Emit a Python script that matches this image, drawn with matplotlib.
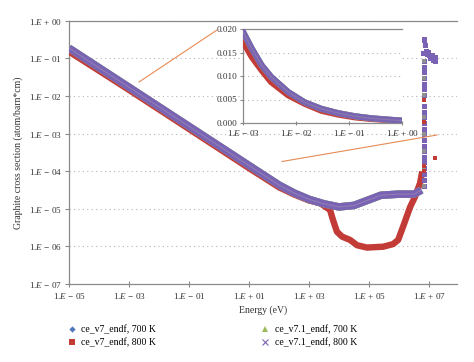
import matplotlib
matplotlib.use('Agg')
import matplotlib.pyplot as plt
from matplotlib.lines import Line2D
from matplotlib.ticker import FixedLocator, FixedFormatter, NullLocator

plt.rcParams['font.family'] = ['Liberation Serif', 'DejaVu Serif']
plt.rcParams['mathtext.fontset'] = 'custom'
plt.rcParams['mathtext.rm'] = 'Liberation Serif'
plt.rcParams['mathtext.it'] = 'Liberation Serif:italic'

# ---------------- data ----------------
series_labels = ['ce_v7_endf, 700 K', 'ce_v7_endf, 800 K',
                 'ce_v7.1_endf, 700 K', 'ce_v7.1_endf, 800 K']

# smooth part, ce_v7.1 (and 700 K libraries, which coincide)
main_energy_v71 = [1e-5, 1e-4, 1e-3, 1e-2, 1e-1, 1.0, 10.0, 100.0, 316.0,
                   1000.0, 3160.0, 1.0e4, 3.16e4, 1.0e5, 2.5e5, 1.0e6,
                   3.16e6, 5.6e6]
main_sigma_v71 = [0.186, 0.0562, 0.0170, 0.00513, 0.00155, 4.68e-4, 1.41e-4,
                  4.27e-5, 2.63e-5, 1.78e-5, 1.35e-5, 1.12e-5, 1.23e-5,
                  1.74e-5, 2.29e-5, 2.45e-5, 2.45e-5, 3.16e-5]

# smooth part, ce_v7_endf 800 K
main_energy_v7_800 = [1e-5, 1e-4, 1e-3, 1e-2, 1e-1, 1.0, 10.0, 100.0, 316.0,
                      1000.0, 2340.0, 5000.0, 6300.0, 8500.0, 1.26e4, 2.34e4,
                      4.0e4, 8.5e4, 2.95e5, 6.3e5, 9.3e5, 1.35e6, 2.34e6,
                      3.4e6, 5.0e6, 5.9e6]
main_sigma_v7_800 = [0.151, 0.0468, 0.01445, 0.00437, 0.00132, 3.98e-4,
                     1.20e-4, 3.72e-5, 2.40e-5, 1.66e-5, 1.41e-5, 9.3e-6,
                     5.0e-6, 2.45e-6, 1.82e-6, 1.48e-6, 1.07e-6, 9.3e-7,
                     9.8e-7, 1.15e-6, 1.48e-6, 3.3e-6, 1.12e-5, 2.09e-5,
                     4.8e-5, 9.8e-5]

# fast-region resonance points
res_energy_v71 = [6.6e6, 6.6e6, 6.6e6, 6.6e6, 6.6e6, 6.6e6, 6.6e6, 6.6e6,
                  6.6e6, 6.6e6, 6.6e6, 6.6e6, 6.6e6, 6.6e6, 6.6e6, 6.6e6,
                  6.6e6, 6.6e6, 6.6e6, 6.6e6, 6.6e6, 6.6e6,
                  6.4e6, 6.8e6, 7.0e6, 7.2e6, 7.6e6, 8.2e6, 9.0e6, 1.0e7,
                  1.1e7, 1.25e7, 1.4e7, 1.55e7, 1.6e7]
res_sigma_v71 = [4.0e-5, 6.0e-5, 8.5e-5, 1.2e-4, 1.7e-4, 2.4e-4, 3.4e-4,
                 4.8e-4, 6.8e-4, 9.5e-4, 1.35e-3, 1.9e-3, 2.7e-3, 3.8e-3,
                 5.3e-3, 1.05e-2, 1.5e-2, 2.1e-2, 3.0e-2, 4.2e-2, 6.0e-2,
                 8.5e-2,
                 0.14, 0.30, 0.32, 0.22, 0.16, 0.13, 0.15, 0.12,
                 0.10, 0.12, 0.09, 0.11, 0.085]
res_energy_v7_800 = [6.6e6, 6.6e6, 6.6e6, 6.6e6, 1.6e7]
res_sigma_v7_800 = [1.0e-4, 1.4e-4, 7.8e-3, 2.0e-3, 2.3e-4]

# inset (linear y)
inset_energy = [1e-3, 1.45e-3, 2.24e-3, 3.39e-3, 7.08e-3, 1.45e-2, 3.02e-2,
                6.17e-2, 0.129, 0.263, 0.55, 1.0]
inset_sigma_v71 = [0.0194, 0.0159, 0.0123, 0.0098, 0.0066, 0.0044, 0.0030,
                   0.0021, 0.00143, 0.0010, 0.00071, 0.0005]
inset_sigma_v7_800 = [0.0173, 0.0141, 0.0112, 0.0087, 0.0059, 0.0041,
                      0.0026, 0.0018, 0.0012, 0.00086, 0.00064, 0.00043]

x_ticks = [1e-5, 1e-3, 1e-1, 1e1, 1e3, 1e5, 1e7]
x_tick_labels = [r'1.$\mathit{E}$ − 05', r'1.$\mathit{E}$ − 03',
                 r'1.$\mathit{E}$ − 01', r'1.$\mathit{E}$ + 01',
                 r'1.$\mathit{E}$ + 03', r'1.$\mathit{E}$ + 05',
                 r'1.$\mathit{E}$ + 07']
y_ticks = [1e-7, 1e-6, 1e-5, 1e-4, 1e-3, 1e-2, 1e-1, 1.0]
y_tick_labels = [r'1.$\mathit{E}$ − 07', r'1.$\mathit{E}$ − 06',
                 r'1.$\mathit{E}$ − 05', r'1.$\mathit{E}$ − 04',
                 r'1.$\mathit{E}$ − 03', r'1.$\mathit{E}$ − 02',
                 r'1.$\mathit{E}$ − 01', r'1.$\mathit{E}$ + 00']
inset_x_ticks = [1e-3, 1e-2, 1e-1, 1.0]
inset_x_labels = [r'1.$\mathit{E}$ − 03', r'1.$\mathit{E}$ − 02',
                  r'1.$\mathit{E}$ − 01', r'1.$\mathit{E}$ + 00']
inset_y_ticks = [0.0, 0.005, 0.010, 0.015, 0.020]
inset_y_labels = ['0.000', '0.005', '0.010', '0.015', '0.020']

# ---------------- styling ----------------
c_blue = '#4f78bd'
c_red = '#c23b36'
c_green = '#9bbb59'
c_purple = '#7a63b5'
c_axis = '#8a8a8a'
c_orange = '#e58a55'
fs = 6.6

W, H = 474, 362
fig = plt.figure(figsize=(W / 100, H / 100), dpi=100)


def px(x0, y0, x1, y1):
    return [x0 / W, 1 - y1 / H, (x1 - x0) / W, (y1 - y0) / H]


ax = fig.add_axes(px(69, 20.7, 457, 284))
ax.set_xscale('log')
ax.set_yscale('log')
ax.set_xlim(1e-5, 10 ** 7.93)
ax.set_ylim(1e-7, 1.0)

ax.plot(main_energy_v71, main_sigma_v71, color=c_blue, lw=5.4,
        solid_capstyle='butt', zorder=2)
ax.plot(main_energy_v7_800, main_sigma_v7_800, color=c_red, lw=4.6,
        solid_capstyle='butt', solid_joinstyle='round', zorder=3)
ax.plot(main_energy_v71, main_sigma_v71, color=c_green, lw=5.4,
        solid_capstyle='butt', zorder=4)
ax.plot(main_energy_v71, main_sigma_v71, color=c_purple, lw=5.4,
        solid_capstyle='butt', solid_joinstyle='round', zorder=5)
ax.plot(main_energy_v71, main_sigma_v71, color='#9a92b0', lw=0.8,
        zorder=6, alpha=0.6)

ax.plot(res_energy_v71, res_sigma_v71, linestyle='none', marker='s',
        markersize=3.6, color=c_purple, markeredgewidth=0, zorder=5)
ax.plot(res_energy_v71[:22:3], res_sigma_v71[:22:3], linestyle='none',
        marker='s', markersize=2.6, color='#8f8f8f', markeredgewidth=0,
        zorder=6)
ax.plot(res_energy_v7_800, res_sigma_v7_800, linestyle='none', marker='s',
        markersize=3.4, color=c_red, markeredgewidth=0, zorder=6)

ax.xaxis.set_major_locator(FixedLocator(x_ticks))
ax.xaxis.set_major_formatter(FixedFormatter(x_tick_labels))
ax.xaxis.set_minor_locator(NullLocator())
ax.yaxis.set_major_locator(FixedLocator(y_ticks))
ax.yaxis.set_major_formatter(FixedFormatter(y_tick_labels))
ax.yaxis.set_minor_locator(NullLocator())
ax.tick_params(axis='both', labelsize=fs, colors='#333333', color=c_axis,
               width=0.8)
ax.tick_params(axis='x', direction='inout', length=4, pad=3)
ax.tick_params(axis='y', direction='out', length=3, pad=2)
ax.grid(axis='y', linestyle=(0, (1, 3)), color='#b5b5b5', lw=0.8)
ax.set_axisbelow(True)
for s in ['left', 'bottom', 'top']:
    ax.spines[s].set_color(c_axis)
    ax.spines[s].set_linewidth(0.9)
ax.spines['right'].set_visible(False)
ax.set_xlabel('Energy (eV)', fontsize=7, color='#333333', labelpad=3)
ax.set_ylabel('Graphite cross section (atom/barn*cm)', fontsize=7,
              color='#333333', labelpad=4)

# ---------------- inset ----------------
ai = fig.add_axes(px(243, 29, 402, 123))
ai.set_xscale('log')
ai.set_xlim(1e-3, 1.0)
ai.set_ylim(0.0, 0.020)
ai.plot(inset_energy, inset_sigma_v71, color=c_blue, lw=4.4, zorder=2)
ai.plot(inset_energy, inset_sigma_v7_800, color=c_red, lw=4.4, zorder=3)
ai.plot(inset_energy, inset_sigma_v71, color=c_green, lw=4.4, zorder=4)
ai.plot(inset_energy, inset_sigma_v71, color=c_purple, lw=4.4, zorder=5)
ai.plot(inset_energy, inset_sigma_v71, color='#8d88a5', lw=0.8, zorder=6,
        alpha=0.7)
ai.xaxis.set_major_locator(FixedLocator(inset_x_ticks))
ai.xaxis.set_major_formatter(FixedFormatter(inset_x_labels))
ai.xaxis.set_minor_locator(NullLocator())
ai.yaxis.set_major_locator(FixedLocator(inset_y_ticks))
ai.yaxis.set_major_formatter(FixedFormatter(inset_y_labels))
ai.tick_params(axis='both', labelsize=fs, colors='#333333', color=c_axis,
               width=0.8)
ai.tick_params(axis='x', direction='inout', length=3, pad=2)
ai.tick_params(axis='y', direction='out', length=2, pad=2)
ai.grid(axis='y', linestyle=(0, (1, 3)), color='#b5b5b5', lw=0.8)
ai.set_axisbelow(True)
for s in ['left', 'bottom', 'top']:
    ai.spines[s].set_color(c_axis)
    ai.spines[s].set_linewidth(0.9)
ai.spines['right'].set_visible(False)

# ---------------- zoom guide lines ----------------
fig.add_artist(Line2D([139 / W, 217 / W], [1 - 82 / H, 1 - 30 / H],
                      color=c_orange, lw=0.8))
fig.add_artist(Line2D([282 / W, 437 / W], [1 - 161.5 / H, 1 - 135 / H],
                      color=c_orange, lw=0.8))

# ---------------- legend ----------------
handles = [
    Line2D([], [], linestyle='none', marker='D', markersize=3.2,
           color=c_blue, markeredgewidth=0),
    Line2D([], [], linestyle='none', marker='s', markersize=4,
           color=c_red, markeredgewidth=0),
    Line2D([], [], linestyle='none', marker='^', markersize=4,
           color=c_green, markeredgewidth=0),
    Line2D([], [], linestyle='none', marker='x', markersize=4,
           color=c_purple, markeredgewidth=0.8),
]
fig.legend(handles, series_labels, ncol=2, loc='upper left',
           bbox_to_anchor=(60 / W, 1 - 318 / H), frameon=False,
           fontsize=7, handlelength=1.0, handletextpad=0.5,
           columnspacing=10.7, labelspacing=0.35, borderpad=0.2)

fig.savefig('out.png', dpi=100)
